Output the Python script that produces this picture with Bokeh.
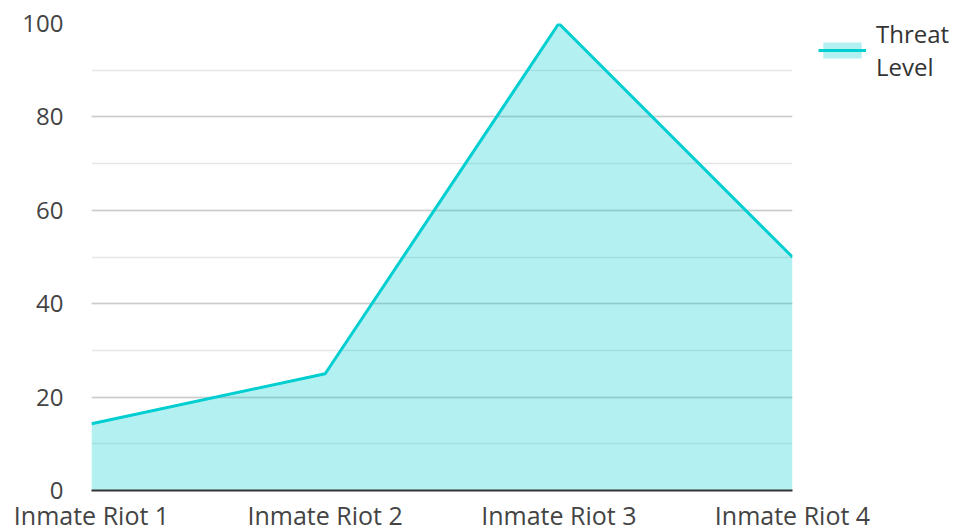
from bokeh.plotting import figure
from bokeh.models import Range1d, FixedTicker, Legend, LegendItem
from bokeh.embed import file_html
from bokeh.resources import INLINE

categories = ["Inmate Riot 1", "Inmate Riot 2", "Inmate Riot 3", "Inmate Riot 4"]
threat_level = [14.3, 25, 100, 50]
y_ticks = [0, 20, 40, 60, 80, 100]

x = list(range(len(categories)))

BL, BT, BB = 91, 23, 41
p = figure(frame_width=701, frame_height=467, output_backend="svg", toolbar_location=None,
           x_range=Range1d(0, len(categories) - 1), y_range=Range1d(0, 100),
           min_border_left=BL, min_border_top=BT, min_border_bottom=BB, min_border_right=0)

area = p.varea(x=x, y1=[0] * len(x), y2=threat_level, fill_color="#00CED1", fill_alpha=0.3)
line = p.line(x=x, y=threat_level, line_color="#00CED1", line_width=3)

p.xaxis.ticker = FixedTicker(ticks=x)
p.xaxis.major_label_overrides = {i: c for i, c in enumerate(categories)}
p.yaxis.ticker = FixedTicker(ticks=y_ticks, minor_ticks=list(range(0, 101, 10)))

for ax in (p.xaxis[0], p.yaxis[0]):
    ax.major_label_text_font = "Open Sans"
    ax.major_label_text_font_size = "24px"
    ax.major_label_text_color = "#444444"
    ax.major_tick_line_color = None
    ax.minor_tick_line_color = None
p.xaxis.major_label_text_font_size = "25px"
p.yaxis.axis_line_color = None
p.yaxis.major_label_standoff = 22
p.xaxis.axis_line_color = "#333333"
p.xaxis.axis_line_width = 2
p.xaxis.major_label_standoff = 1

p.xgrid.grid_line_color = None
p.ygrid.grid_line_color = "#cccccc"
p.ygrid.grid_line_width = 1.5
p.ygrid.minor_grid_line_color = "#e6e6e6"
p.ygrid.minor_grid_line_width = 1.5
p.outline_line_color = None

legend = Legend(items=[LegendItem(label="Threat\nLevel", renderers=[area, line])],
                location=(26, 407), label_text_font="Open Sans",
                label_text_font_size="24px",
                label_text_color="#333333", glyph_width=48, glyph_height=20,
                label_standoff=10, border_line_color=None, padding=0, margin=0,
                background_fill_alpha=0)
p.add_layout(legend, "right")

open("out.html", "w").write(file_html(p, INLINE))
